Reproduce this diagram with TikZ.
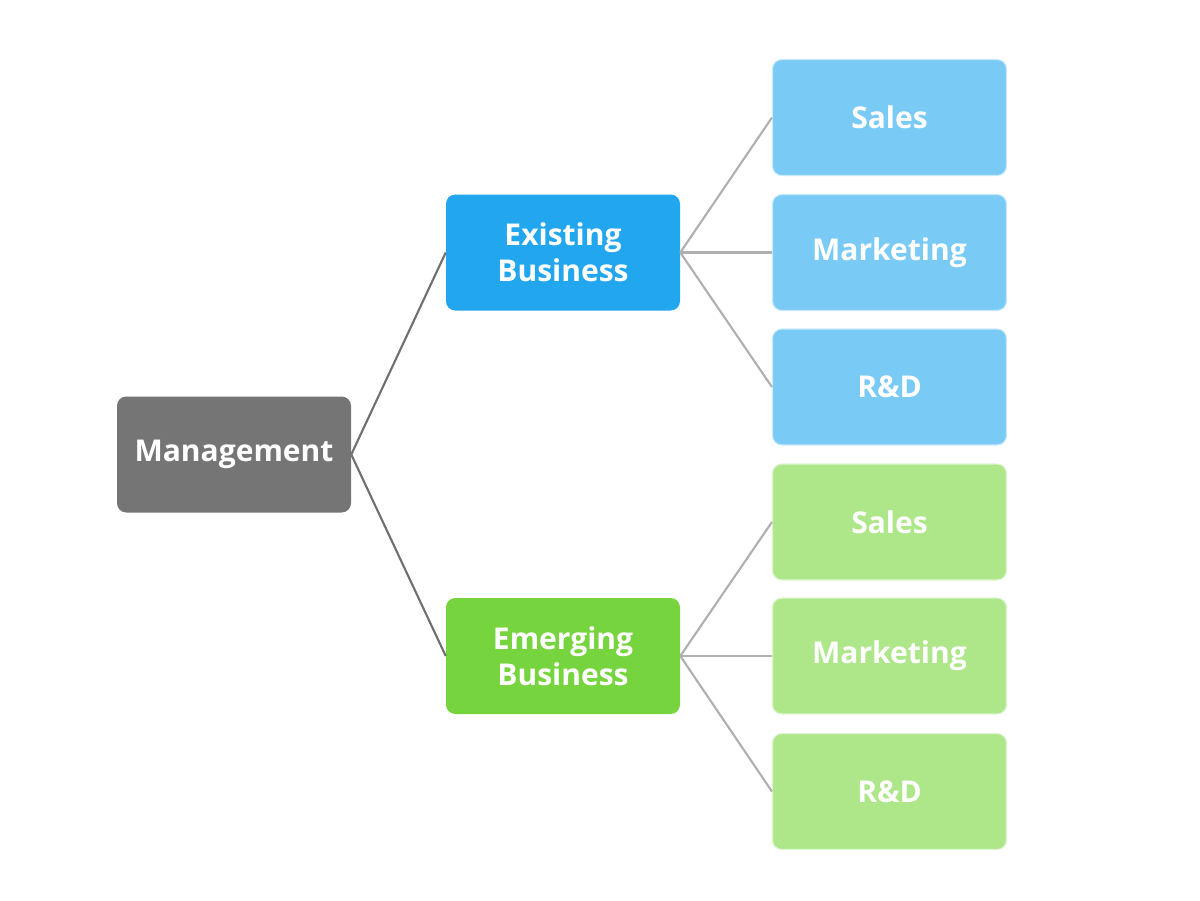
\documentclass[tikz,border=0pt]{standalone}
\usepackage{fontspec}
\setmainfont{Open Sans}[BoldFont={Open Sans Bold}]
\definecolor{mgray}{HTML}{757575}
\definecolor{eblue}{HTML}{22A6EE}
\definecolor{egreen}{HTML}{76D43E}
\definecolor{lblue}{HTML}{79CAF5}
\definecolor{lgreen}{HTML}{AEE78A}
\definecolor{darkline}{HTML}{707070}
\definecolor{lightline}{HTML}{B0B0B0}
\tikzset{
  box/.style={rectangle, rounded corners=7pt, minimum width=175.5pt, minimum height=87pt,
    text=white, font=\bfseries\fontsize{22.5}{27}\selectfont, align=center, inner sep=0pt},
  lbox/.style={box, draw=white!60!#1, line width=0.8pt, fill=#1},
  mlink/.style={draw=darkline, line width=1.6pt},
  clink/.style={draw=lightline, line width=1.6pt}
}
\begin{document}
\begin{tikzpicture}[x=0.75pt,y=-0.75pt]
\useasboundingbox (0,0) rectangle (1200,900);
\node[box, fill=mgray] (mgmt) at (234,454.5) {Management};
\node[box, fill=eblue] (exist) at (563,252.5) {Existing\\Business};
\node[box, fill=egreen] (emerg) at (563,656) {Emerging\\Business};
\node[lbox=lblue] (s1) at (889.5,117.5) {Sales};
\node[lbox=lblue] (m1) at (889.5,252.5) {Marketing};
\node[lbox=lblue] (r1) at (889.5,387) {R\&D};
\node[lbox=lgreen] (s2) at (889.5,522) {Sales};
\node[lbox=lgreen] (m2) at (889.5,656) {Marketing};
\node[lbox=lgreen] (r2) at (889.5,791.5) {R\&D};
\draw[mlink] (mgmt.east) -- (exist.west);
\draw[mlink] (mgmt.east) -- (emerg.west);
\foreach \c in {s1,m1,r1} \draw[clink] (exist.east) -- (\c.west);
\foreach \c in {s2,m2,r2} \draw[clink] (emerg.east) -- (\c.west);
\end{tikzpicture}
\end{document}
